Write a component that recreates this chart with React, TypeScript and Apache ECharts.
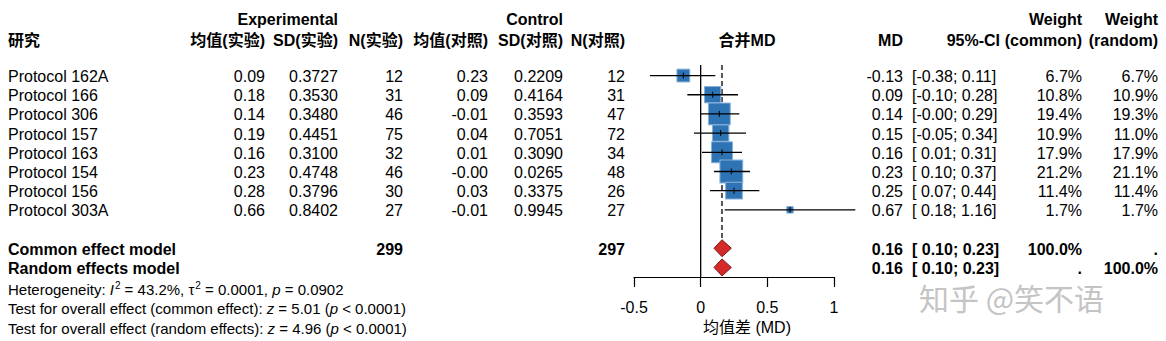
import { useEffect, useRef } from 'react';
import * as echarts from 'echarts';

// Study-level data
const studies = ['Protocol 162A', 'Protocol 166', 'Protocol 306', 'Protocol 157', 'Protocol 163', 'Protocol 154', 'Protocol 156', 'Protocol 303A'];
const meanExp = [0.09, 0.18, 0.14, 0.19, 0.16, 0.23, 0.28, 0.66];
const sdExp = [0.3727, 0.353, 0.348, 0.4451, 0.31, 0.4748, 0.3796, 0.8402];
const nExp = [12, 31, 46, 75, 32, 46, 30, 27];
const meanCtl = [0.23, 0.09, -0.01, 0.04, 0.01, -0.004, 0.03, -0.01];
const sdCtl = [0.2209, 0.4164, 0.3593, 0.7051, 0.309, 0.0265, 0.3375, 0.9945];
const nCtl = [12, 31, 47, 72, 34, 48, 26, 27];
const md = [-0.13, 0.09, 0.14, 0.15, 0.16, 0.23, 0.25, 0.67];
const ciLow = [-0.38, -0.1, -0.004, -0.05, 0.01, 0.1, 0.07, 0.18];
const ciHigh = [0.11, 0.28, 0.29, 0.34, 0.31, 0.37, 0.44, 1.16];
const weightCommon = [6.7, 10.8, 19.4, 10.9, 17.9, 21.2, 11.4, 1.7];
const weightRandom = [6.7, 10.9, 19.3, 11.0, 17.9, 21.1, 11.4, 1.7];

// Pooled estimates
const pooledLabels = ['Common effect model', 'Random effects model'];
const pooledMD = [0.16, 0.16];
const pooledLow = [0.1, 0.1];
const pooledHigh = [0.23, 0.23];

// Axis ticks
const xTicks = [-0.5, 0, 0.5, 1];

const FONT = '"Liberation Sans", Arial, "Noto Sans CJK SC", sans-serif';
const DIAMOND_HALF = 8.5;
const SUMMARY_ROW0 = studies.length + 1;

const col = {
  study: 8, meanExp: 265, sdExp: 338, nExp: 403, meanCtl: 488, sdCtl: 563, nCtl: 625,
  plot: 747, md: 903, ci: 912, wCommon: 1082, wRandom: 1158,
};

const f2 = (v: number) => v.toFixed(2);
const ciText = (lo: number, hi: number) => `[${lo < 0 ? f2(lo) : ' ' + f2(lo)}; ${f2(hi)}]`;
const sum = (a: number[]) => a.reduce((s, v) => s + v, 0);

function txt(x: number, y: number, text: string, align: string, bold = false, size = 16, extra: any = {}) {
  return {
    type: 'text', x, y, silent: true,
    style: {
      text, fill: '#000', fontSize: size, fontFamily: FONT, fontWeight: bold ? 'bold' : 'normal',
      textAlign: align, textVerticalAlign: 'middle', ...extra,
    },
  };
}

export default function App() {
  const ref = useRef<HTMLDivElement>(null);

  useEffect(() => {
    if (!ref.current) return;
    const chart = echarts.init(ref.current, null, { renderer: 'svg' });

    chart.setOption({
      animation: false,
      backgroundColor: '#fff',
      grid: { left: 634, right: 332, top: 65, height: 212, outerBoundsMode: 'none' },
      xAxis: {
        type: 'value', min: -0.5, max: 1, interval: 0.5, position: 'bottom',
        axisLine: { show: true, onZero: false, lineStyle: { color: '#000', width: 1.2 } },
        axisTick: { show: true, length: 10, lineStyle: { color: '#000', width: 1.2 } },
        axisLabel: {
          color: '#000', fontSize: 16, fontFamily: FONT, margin: 22,
          formatter: (v: number) => (xTicks.includes(v) ? String(v) : ''),
        },
        splitLine: { show: false },
      },
      yAxis: { type: 'value', inverse: true, min: -0.55, max: 10.5, show: false },
      series: [
        {
          type: 'custom', name: 'ref', clip: false, z: 1,
          data: [[0, -0.55, 10.5, 0], [pooledMD[0], -0.55, SUMMARY_ROW0, 1]],
          encode: { x: 0, y: [1, 2] },
          renderItem: (_p: any, api: any) => {
            const a = api.coord([api.value(0), api.value(1)]);
            const b = api.coord([api.value(0), api.value(2)]);
            const dashed = api.value(3) === 1;
            return {
              type: 'line',
              shape: { x1: a[0], y1: a[1], x2: b[0], y2: dashed ? b[1] - DIAMOND_HALF : b[1] },
              style: { stroke: '#000', lineWidth: 1.3, lineDash: dashed ? [5, 3] : null },
            };
          },
        },
        {
          type: 'scatter', name: 'studies', z: 2,
          data: studies.map((_s, i) => [md[i], i, weightCommon[i]]),
          symbol: 'rect',
          symbolSize: (v: number[]) => 4.95 * Math.sqrt(v[2]),
          itemStyle: { color: '#2e74b5', borderColor: '#86b0da', borderWidth: 1, opacity: 1 },
        },
        {
          type: 'custom', name: 'ci', clip: false, z: 3,
          data: studies.map((_s, i) => [ciLow[i], ciHigh[i], md[i], i]),
          encode: { x: [0, 1, 2], y: 3 },
          renderItem: (_p: any, api: any) => {
            const row = api.value(3);
            const a = api.coord([api.value(0), row]);
            const b = api.coord([api.value(1), row]);
            const m = api.coord([api.value(2), row]);
            return {
              type: 'group',
              children: [
                { type: 'line', shape: { x1: a[0], y1: a[1], x2: b[0], y2: b[1] }, style: { stroke: '#000', lineWidth: 1.3 } },
                { type: 'line', shape: { x1: m[0], y1: m[1] - 3, x2: m[0], y2: m[1] + 3 }, style: { stroke: '#000', lineWidth: 1 } },
              ],
            };
          },
        },
        {
          type: 'custom', name: 'pooled', clip: false, z: 4,
          data: pooledMD.map((m, i) => [pooledLow[i], pooledHigh[i], m, SUMMARY_ROW0 + i]),
          encode: { x: [0, 1, 2], y: 3 },
          renderItem: (_p: any, api: any) => {
            const row = api.value(3);
            const a = api.coord([api.value(0), row]);
            const b = api.coord([api.value(1), row]);
            const m = api.coord([api.value(2), row]);
            return {
              type: 'polygon',
              shape: { points: [[a[0], a[1]], [m[0], m[1] - DIAMOND_HALF], [b[0], b[1]], [m[0], m[1] + DIAMOND_HALF]] },
              style: { fill: '#d42a2a', stroke: '#7a1a1a', lineWidth: 1 },
            };
          },
        },
      ],
    });

    const rowY = (r: number) => chart.convertToPixel({ yAxisIndex: 0 }, r) as number + 1;
    const g: any[] = [];

    // header
    const h1 = 19, h2 = 40;
    g.push(txt(col.sdExp, h1, 'Experimental', 'right', true));
    g.push(txt(col.sdCtl, h1, 'Control', 'right', true));
    g.push(txt(col.wCommon, h1, 'Weight', 'right', true));
    g.push(txt(col.wRandom, h1, 'Weight', 'right', true));
    g.push(txt(col.study, h2, '研究', 'left', true));
    g.push(txt(col.meanExp, h2, '均值(实验)', 'right', true));
    g.push(txt(col.sdExp, h2, 'SD(实验)', 'right', true));
    g.push(txt(col.nExp, h2, 'N(实验)', 'right', true));
    g.push(txt(col.meanCtl, h2, '均值(对照)', 'right', true));
    g.push(txt(col.sdCtl, h2, 'SD(对照)', 'right', true));
    g.push(txt(col.nCtl, h2, 'N(对照)', 'right', true));
    g.push(txt(col.plot, h2, '合并MD', 'center', true));
    g.push(txt(col.md, h2, 'MD', 'right', true));
    g.push(txt(1000, h2, '95%-CI', 'right', true));
    g.push(txt(col.wCommon, h2, '(common)', 'right', true));
    g.push(txt(col.wRandom, h2, '(random)', 'right', true));

    // study rows
    studies.forEach((s, i) => {
      const y = rowY(i);
      g.push(txt(col.study, y, s, 'left'));
      g.push(txt(col.meanExp, y, f2(meanExp[i]), 'right'));
      g.push(txt(col.sdExp, y, sdExp[i].toFixed(4), 'right'));
      g.push(txt(col.nExp, y, String(nExp[i]), 'right'));
      g.push(txt(col.meanCtl, y, f2(meanCtl[i]), 'right'));
      g.push(txt(col.sdCtl, y, sdCtl[i].toFixed(4), 'right'));
      g.push(txt(col.nCtl, y, String(nCtl[i]), 'right'));
      g.push(txt(col.md, y, f2(md[i]), 'right'));
      g.push(txt(col.ci, y, ciText(ciLow[i], ciHigh[i]), 'left'));
      g.push(txt(col.wCommon, y, weightCommon[i].toFixed(1) + '%', 'right'));
      g.push(txt(col.wRandom, y, weightRandom[i].toFixed(1) + '%', 'right'));
    });

    // pooled rows
    pooledLabels.forEach((lab, i) => {
      const y = rowY(SUMMARY_ROW0 + i);
      g.push(txt(col.study, y, lab, 'left', true));
      if (i === 0) {
        g.push(txt(col.nExp, y, String(sum(nExp)), 'right', true));
        g.push(txt(col.nCtl, y, String(sum(nCtl)), 'right', true));
      }
      g.push(txt(col.md, y, f2(pooledMD[i]), 'right', true));
      g.push(txt(col.ci, y, ciText(pooledLow[i], pooledHigh[i]), 'left', true));
      g.push(txt(col.wCommon, y, i === 0 ? '100.0%' : '.', 'right', true));
      g.push(txt(col.wRandom, y, i === 1 ? '100.0%' : '.', 'right', true));
    });

    // heterogeneity and overall effect tests
    const rich = {
      i: { fontSize: 15, fontFamily: FONT, fontStyle: 'italic', fill: '#000', lineHeight: 18 },
      sup: { fontSize: 10, fontFamily: FONT, fill: '#000', lineHeight: 10, verticalAlign: 'top', padding: [0, 0, 0, 1] },
    };
    g.push(txt(col.study, 289, 'Heterogeneity: {i|I}{sup|2} = 43.2%, τ{sup|2} = 0.0001, {i|p} = 0.0902', 'left', false, 15, { rich, lineHeight: 18 }));
    g.push(txt(col.study, 308, 'Test for overall effect (common effect): {i|z} = 5.01 ({i|p} < 0.0001)', 'left', false, 15, { rich, lineHeight: 18 }));
    g.push(txt(col.study, 328, 'Test for overall effect (random effects): {i|z} = 4.96 ({i|p} < 0.0001)', 'left', false, 15, { rich, lineHeight: 18 }));

    // axis title
    g.push(txt(col.plot, 327, '均值差 (MD)', 'center', false, 16));

    // watermark
    g.push({
      type: 'text', x: 919, y: 297, silent: true, z: 0,
      style: {
        text: '知乎 @笑不语', fill: '#c4c4c4', fontSize: 30, fontFamily: '"Noto Sans CJK SC", sans-serif',
        textAlign: 'left', textVerticalAlign: 'middle', textShadowColor: '#8a8a8a', textShadowOffsetX: 1, textShadowOffsetY: 1, textShadowBlur: 0,
      },
    });

    chart.setOption({ graphic: g });

    return () => chart.dispose();
  }, []);

  return <div ref={ref} style={{ position: 'fixed', left: 0, top: 0, width: 1166, height: 341, background: '#fff' }} />;
}
